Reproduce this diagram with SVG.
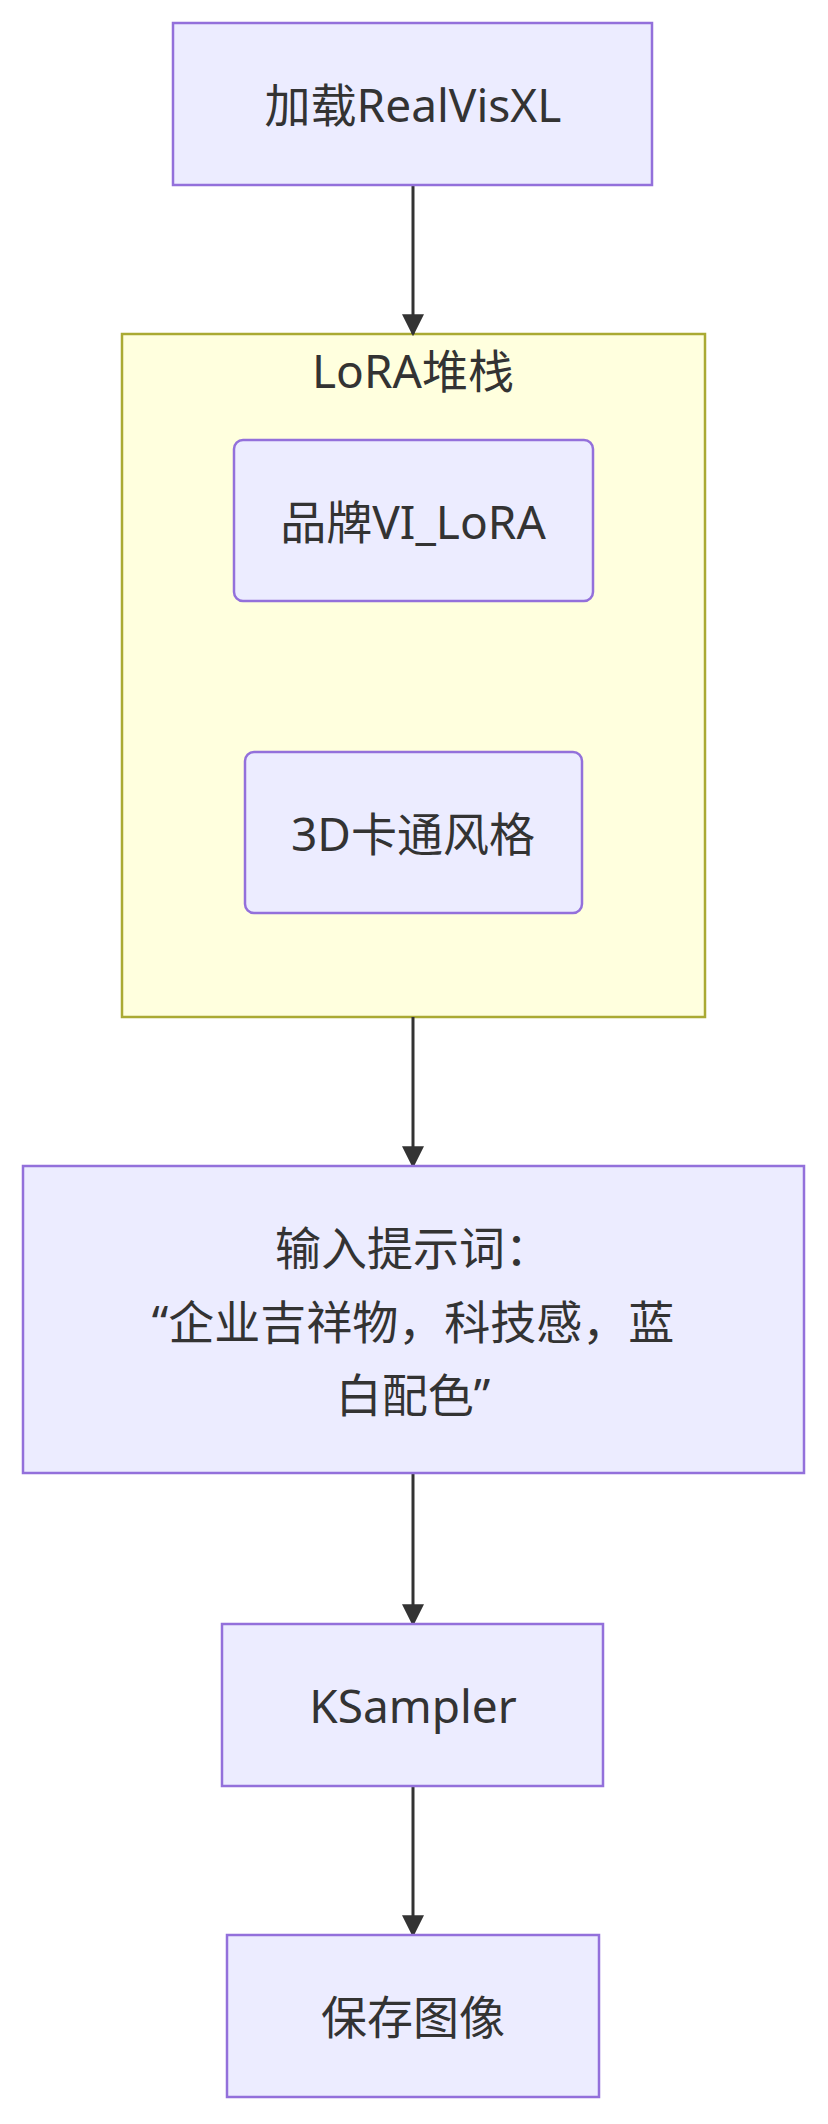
<svg xmlns="http://www.w3.org/2000/svg" width="828" height="2124" viewBox="0 0 828 2124">
<style>
.n{fill:#ECECFF;stroke:#9370DB;stroke-width:2.5}
.c{fill:#FFFFDE;stroke:#AAAA33;stroke-width:2.5}
text{font-family:"Noto Sans","Noto Sans CJK SC",sans-serif;font-size:46px;fill:#333;text-anchor:middle;dominant-baseline:central}
.e{stroke:#333;stroke-width:3;fill:none;marker-end:url(#a)}
</style>
<defs><marker id="a" viewBox="0 0 10 10" refX="9" refY="5" markerWidth="22" markerHeight="22" markerUnits="userSpaceOnUse" orient="auto"><path d="M0,0L10,5L0,10z" fill="#333"/></marker></defs>
<rect width="828" height="2124" fill="#fff"/>
<g id="cluster"><rect class="c" x="122" y="334" width="583" height="683"/><text x="413" y="370">LoRA堆栈</text></g>
<g id="edges">
<path class="e" d="M413,185V334"/>
<path class="e" d="M413,1017V1166"/>
<path class="e" d="M413,1473V1624"/>
<path class="e" d="M413,1786V1935"/>
</g>
<g id="load"><rect class="n" x="173" y="23" width="479" height="162"/><text x="413" y="104">加载RealVisXL</text></g>
<g id="vi"><rect class="n" x="234" y="440" width="359" height="161" rx="9"/><text x="413" y="521">品牌VI_LoRA</text></g>
<g id="cartoon"><rect class="n" x="245" y="752" width="337" height="161" rx="9"/><text x="413" y="833">3D卡通风格</text></g>
<g id="prompt"><rect class="n" x="23" y="1166" width="781" height="307"/><text x="413" y="1247">输入提示词：</text><text x="413" y="1321">“企业吉祥物，科技感，蓝</text><text x="413" y="1394">白配色”</text></g>
<g id="ks"><rect class="n" x="222" y="1624" width="381" height="162"/><text x="413" y="1705">KSampler</text></g>
<g id="save"><rect class="n" x="227" y="1935" width="372" height="162"/><text x="413" y="2016">保存图像</text></g>
</svg>
